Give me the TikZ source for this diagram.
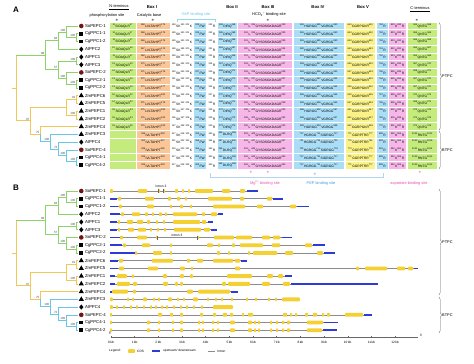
\documentclass[tikz,border=0pt]{standalone}
\usepackage{fontspec}
\setmainfont{Liberation Sans}
\usepackage{tikz}
\usetikzlibrary{shapes.geometric, arrows.meta, positioning, decorations.pathreplacing, calc}
\definecolor{treegreen}{RGB}{140,212,105}
\definecolor{treeyellow}{RGB}{240,200,85}
\definecolor{treecyan}{RGB}{105,198,230}
\definecolor{cellgreen}{RGB}{196,236,125}
\definecolor{cellorange}{RGB}{250,198,152}
\definecolor{cellcyan}{RGB}{170,222,246}
\definecolor{cellpink}{RGB}{246,182,232}
\definecolor{cellyellow}{RGB}{250,242,135}
\definecolor{soRed}{RGB}{115,20,20}
\definecolor{exonyellow}{RGB}{245,208,50}
\definecolor{utrblue}{RGB}{45,60,215}
\definecolor{sitepink}{RGB}{228,80,175}
\definecolor{siteblue}{RGB}{70,150,215}
\newcommand{\sps}[1]{\textsuperscript{#1}}
\newcommand{\nn}[1]{\the\numexpr#1+\off\relax}
% one gene model in panel B: row, end, exons, up/downstream
\newcommand{\gene}[4]{%
  \pgfmathsetmacro\gy{183.26+7.74*#1}
  \draw[intron] (110,\gy) -- (#2,\gy);
  \foreach \s/\t in {#4} \draw[utr] (\s,\gy) -- (\t,\gy);
  \foreach \s/\t in {#3} \fill[exon] (\s,\gy-1.9) rectangle (\t,\gy+1.9);
}

\begin{document}
\begin{tikzpicture}[x=1pt, y=-1pt,
    leaf/.style={font=\fontsize{4.3}{5}\selectfont, inner sep=0, anchor=west},
    boot/.style={font=\fontsize{3}{3.5}\selectfont, text=black!70, inner sep=0.4, anchor=south east},
    cell/.style 2 args={fill=#1, minimum width=#2, minimum height=6.8, inner sep=0,
                        font=\fontsize{3.3}{4}\selectfont},
    boxhead/.style={font=\fontsize{4.2}{5}\selectfont\bfseries, inner sep=0},
    subhead/.style={font=\fontsize{3.9}{4.5}\selectfont, inner sep=0},
    starmark/.style={font=\fontsize{5.5}{5.5}\selectfont, inner sep=0},
    soMark/.style={circle, fill=soRed, minimum size=4.6, inner sep=0},
    cgMark/.style={rectangle, fill=black, minimum size=3.8, inner sep=0},
    atMark/.style={diamond, fill=black, minimum width=4.4, minimum height=5.4, inner sep=0},
    zmMark/.style={regular polygon, regular polygon sides=3, fill=black, minimum size=6, inner sep=0},
    intron/.style={draw=black!45, line width=0.5},
    utr/.style={draw=utrblue, line width=1.8},
    exon/.style={fill=exonyellow, rounded corners=0.8},
    tick/.style={font=\fontsize{3.2}{4}\selectfont, inner sep=0},
    group/.style={decorate, decoration={brace, amplitude=2.5}, draw=black!60, line width=0.4}
]
    \useasboundingbox (0,0) rectangle (474,364);
    \node[font=\fontsize{8}{9}\selectfont\bfseries] (labA) at (16,10) {A};
    \node[font=\fontsize{8}{9}\selectfont\bfseries] (labB) at (16,188) {B};

    % trees, markers and names (same in A and B)
    \foreach \p/\dy in {a/0, b/165}{
    \begin{scope}[shift={(0,\dy)}]
        \foreach \name/\mk [count=\i] in {SoPEPC-1/soMark, CgPPC1-1/cgMark, CgPPC1-2/cgMark,
            AtPPC2/atMark, AtPPC1/atMark, AtPPC3/atMark, SoPEPC-2/soMark, CgPPC2-1/cgMark,
            CgPPC2-2/cgMark, ZmPEPC6/zmMark, ZmPEPC5/zmMark, ZmPEPC1/zmMark, ZmPEPC2/zmMark,
            ZmPEPC4/zmMark, ZmPEPC3/zmMark, AtPPC4/atMark, SoPEPC-4/soMark, CgPPC4-1/cgMark,
            CgPPC4-2/cgMark}{
            \pgfmathsetmacro\ry{18.26+7.74*\i}
            \coordinate (\p T\i) at (78,\ry);
            \node[\mk] (\p M\i) at (81.3,\ry) {};
            \node[leaf] (\p L\i) at (84.8,\ry) {\name};
        }
        \coordinate (\p c1) at (76,37.61);
        \coordinate (\p c2) at (66,31.8);
        \coordinate (\p c3) at (58,40.5);
        \coordinate (\p c4) at (76,60.83);
        \coordinate (\p c5) at (76,84.05);
        \coordinate (\p c6) at (66,78.25);
        \coordinate (\p c7) at (58,69.54);
        \coordinate (\p c8) at (45,55.02);
        \coordinate (\p z1) at (76,99.53);
        \coordinate (\p z2) at (76,115.01);
        \coordinate (\p z3) at (66,107.27);
        \coordinate (\p b1) at (76,161.45);
        \coordinate (\p b2) at (66,155.6);
        \coordinate (\p b3) at (58,148.9);
        \coordinate (\p b4) at (50,141.6);
        \coordinate (\p b5) at (40,134.1);
        \coordinate (\p b6) at (30,120.7);
        \coordinate (\p r) at (16,87.86);
        \foreach \u/\v/\col in {c1/T2/treegreen, c1/T3/treegreen, c2/T1/treegreen, c2/c1/treegreen,
            c3/c2/treegreen, c3/T4/treegreen, c4/T5/treegreen, c4/T6/treegreen, c5/T8/treegreen,
            c5/T9/treegreen, c6/T7/treegreen, c6/c5/treegreen, c7/c4/treegreen, c7/c6/treegreen,
            c8/c3/treegreen, c8/c7/treegreen, z1/T10/treeyellow, z1/T11/treeyellow,
            z2/T12/treeyellow, z2/T13/treeyellow, z3/z1/treeyellow, z3/z2/treeyellow,
            b1/T18/treecyan, b1/T19/treecyan, b2/T17/treecyan, b2/b1/treecyan, b3/T16/treecyan,
            b3/b2/treecyan, b4/T15/treecyan, b4/b3/treecyan, b5/T14/treeyellow, b5/b4/treecyan,
            b6/z3/treeyellow, b6/b5/treeyellow, r/b6/treeyellow}
            \draw[\col, line width=0.5] (\p\u) |- (\p\v);
        \draw[treeyellow, line width=0.5] (\p r) -- (\p r |- \p c8);
        \draw[treegreen, line width=0.5] (\p r |- \p c8) -- (\p c8);
        \draw[treeyellow, line width=0.5] (\p r) -- ++(-4,0);
        \foreach \u/\bs in {c1/100, c2/100, c3/84, c4/100, c5/100, c6/100, c7/57, c8/98,
            z1/91, z2/100, b1/100, b2/100, b3/72, b4/100, b5/75, b6/97}
            \node[boot] (\p s\u) at (\p\u) {\bs};
    \end{scope}
    }

    % panel A: headers
    \node[subhead] (nterm) at (119,7) {\underline{N-terminus}};
    \node[subhead] (phos) at (107,15) {phosphorylation site};
    \node[boxhead] (box1) at (152,7) {Box I};
    \node[subhead] (catb) at (149,15) {Catalytic base};
    \node[subhead, text=treecyan] (g6p) at (196,14.5) {G6P binding site};
    \draw[treecyan!70, line width=0.4] (177,21.5) -- (177,19) -- (215,19) -- (215,21.5);
    \node[boxhead] (box2) at (232,7) {Box II};
    \node[boxhead] (box3) at (268,7) {Box III};
    \node[subhead] (hco) at (269,15) {HCO\textsubscript{3}\textsuperscript{--} binding site};
    \node[boxhead] (box4) at (318,7) {Box IV};
    \node[boxhead] (box5) at (363,7) {Box V};
    \node[subhead] (cterm) at (420,9) {\underline{C-terminus}};
    \foreach \sx in {117,153,268,417}
        \node[starmark] (st\sx) at (\sx,20.5) {$\ast$};

    % panel A: motifs, PTPC
    \foreach \i/\off in {1/3,2/3,3/3,4/2,5/3,6/5,7/6,8/5,9/5,10/8,11/6,12/10,13/10,14/11}{
        \pgfmathsetmacro\ry{18.26+7.74*\i}
        \node[cell={cellgreen}{25.5}] (ph\i) at (122.75,\ry) {\sps{\nn{8}}SIDAQLR\sps{\nn{14}}};
        \node[cell={cellorange}{33.5}] (ca\i) at (153.25,\ry) {\sps{\nn{165}}LVLTAHPT\sps{\nn{172}}};
        \node[cell={white}{22}] (ta\i) at (182,\ry) {\sps{\nn{186}}SK\sps{\nn{187}}\,\sps{\nn{198}}K};
        \node[cell={cellcyan}{12}] (cy\i) at (200,\ry) {\sps{\nn{221}}FW};
        \node[cell={white}{10}] (tb\i) at (212,\ry) {\sps{\nn{229}}R};
        \node[cell={cellcyan}{19}] (cz\i) at (227.5,\ry) {\sps{\nn{262}}DIRQ\sps{\nn{265}}};
        \node[cell={cellpink}{54}] (pk\i) at (265,\ry) {\sps{\nn{298}}L \sps{\nn{312}}GYSDSGKDAGR\sps{\nn{322}}};
        \node[cell={cellcyan}{50}] (hg\i) at (319,\ry) {\sps{\nn{578}}HGRGG\sps{\nn{582}}VGRGG\sps{\nn{587}}};
        \node[cell={cellyellow}{29}] (ye\i) at (360.5,\ry) {\sps{\nn{641}}GGRPGKR\sps{\nn{647}}};
        \node[cell={cellcyan}{11}] (cr\i) at (382.5,\ry) {\sps{\nn{759}}R};
        \node[cell={cellpink}{17}] (kr\i) at (397.5,\ry) {\sps{\nn{820}}K\sps{\nn{829}}R};
        \node[cell={cellgreen}{29}] (ct\i) at (422.5,\ry) {\sps{\nn{962}}QNTG\sps{\nn{965}}};
    }
    % panel A: motifs, BTPC
    \foreach \i/\off in {15/0,16/4,17/2,18/0,19/0}{
        \pgfmathsetmacro\ry{18.26+7.74*\i}
        \node[cell={cellgreen}{25.5}] (ph\i) at (122.75,\ry) {};
        \node[cell={cellorange}{33.5}] (ca\i) at (153.25,\ry) {\sps{\nn{296}}IVLTAHPT\sps{\nn{303}}};
        \node[cell={white}{22}] (ta\i) at (182,\ry) {\sps{\nn{317}}SK\sps{\nn{318}}\,\sps{\nn{329}}K};
        \node[cell={cellcyan}{12}] (cy\i) at (200,\ry) {\sps{\nn{352}}FW};
        \node[cell={white}{10}] (tb\i) at (212,\ry) {\sps{\nn{360}}R};
        \node[cell={cellcyan}{19}] (cz\i) at (227.5,\ry) {\sps{\nn{393}}DLRQ\sps{\nn{396}}};
        \node[cell={cellpink}{54}] (pk\i) at (265,\ry) {\sps{\nn{429}}L \sps{\nn{443}}GYSDSGKDAGR\sps{\nn{453}}};
        \node[cell={cellcyan}{50}] (hg\i) at (319,\ry) {\sps{\nn{707}}HGRGG\sps{\nn{711}}SIGRGG\sps{\nn{717}}};
        \node[cell={cellyellow}{29}] (ye\i) at (360.5,\ry) {\sps{\nn{771}}GGRPTRR\sps{\nn{777}}};
        \node[cell={cellcyan}{11}] (cr\i) at (382.5,\ry) {\sps{\nn{889}}R};
        \node[cell={cellpink}{17}] (kr\i) at (397.5,\ry) {\sps{\nn{950}}K\sps{\nn{959}}R};
        \node[cell={cellgreen}{29}] (ct\i) at (422.5,\ry) {\sps{\nn{1029}}RNTG\sps{\nn{1032}}};
    }
    \draw[group] (439,22.5) -- (439,130.5) node[midway, right=3pt, subhead] (ptpcA) {PTPC};
    \draw[group] (439,131) -- (439,169) node[midway, right=3pt, subhead] (btpcA) {BTPC};

    % panel A: binding sites below
    \node[starmark, text=sitepink] (mg1) at (251,172) {$\ast$};
    \node[starmark, text=sitepink] (mg2) at (268,172) {$\ast$};
    \node[starmark, text=siteblue] (pep1) at (315,174) {$\ast$};
    \node[starmark, text=sitepink] (asp1) at (420,172) {$\ast$};
    \draw[siteblue!40, line width=0.4] (210,173) -- (210,177) -- (383,177) -- (383,173);
    \node[subhead, text=sitepink] (mgsite) at (265,183) {Mg\textsuperscript{2+} binding site};
    \node[subhead, text=siteblue] (pepsite) at (321,183) {PEP binding site};
    \node[subhead, text=sitepink] (aspsite) at (409,183) {aspartate binding site};

    % panel B: gene models
    \gene{1}{258}{110/113,138/147,158/160,163/165,175/178,182/184,188/190,195/213,222/230,240/245}{247/258}
    \gene{2}{283}{118/121,145/154,168/171,177/180,185/187,208/232,240/244,267/272}{110/117,273/283}
    \gene{3}{309}{119/122,147/154,170/172,180/183,190/192,213/245,257/263,290/296}{110/118,297/309}
    \gene{4}{223}{121/124,132/140,145/148,152/154,159/162,165/167,173/197,202/205,211/217}{110/120,218/223}
    \gene{5}{213}{118/120,127/133,137/143,147/150,156/158,163/165,173/200,202/206}{110/117,208/213}
    \gene{6}{217}{118/120,128/134,138/146,150/152,157/159,164/166,174/201,204/210}{110/117,211/217}
    \gene{7}{292}{120/123,137/147,156/158,197/199,214/234,236/252,262/270,273/280}{110/120,282/292}
    \gene{8}{325}{123/126,142/150,170/172,207/213,218/220,232/235,240/263,272/280,305/312}{110/122,313/325}
    \gene{9}{335}{135/137,153/162,170/172,217/220,228/230,248/250,253/277,285/293,317/323}{110/135,324/335}
    \gene{10}{247}{119/123,152/173,187/190,197/203,213/233,235/240}{110/118,241/247}
    \gene{11}{418}{119/124,148/158,180/185,191/193,235/240,356/359,365/387,397/405,408/413}{110/118,414/418}
    \gene{12}{292}{117/127,132/134,163/167,180/184,190/193,227/252,267/273,278/283}{110/115,285/292}
    \gene{13}{378}{117/130,133/137,163/168,175/178,180/183,222/226,228/250,262/270,283/290}{110/115,291/378}
    \gene{14}{238}{112/128,133/136,187/193,198/230}{110/112,231/238}
    \gene{15}{300}{110/113,127/129,132/134,143/147,153/155,158/160,168/172,177/179,183/185,193/198,207/209,215/217,221/223,231/233,246/248,255/257,268/270,275/277,282/300}{110/110.5}
    \gene{16}{233}{110/113,116/118,123/125,130/132,136/138,143/145,150/152,155/157,161/163,166/168,173/175,180/182,186/188,193/195,201/203,213/233}{110/110.5}
    \gene{17}{372}{110/112,158/162,170/173,180/183,200/203,213/216,223/227,230/233,242/244,248/253,283/287,290/292,295/297,305/308,313/317,322/324,327/330,345/363}{364/372}
    \gene{18}{338}{110/112,147/150,158/160,172/174,180/183,198/200,202/204,212/214,217/219,230/235,248/252,254/256,258/260,270/272,276/278,282/284,287/290,307/323}{324/338}
    \gene{19}{337}{110/112,147/150,158/160,172/174,180/183,198/200,202/204,212/214,217/219,230/235,248/252,254/256,258/260,270/272,276/278,282/284,287/290,307/322}{323/337}
    \draw[black!60, line width=0.3] (158,189) -- (158,193) (163,189) -- (163,193);
    \node[tick] (in1) at (161,186) {intron 3};
    \draw[black!60, line width=0.3] (157,236) -- (157,240) (197,236) -- (197,240);
    \node[tick] (in2) at (177,235.5) {intron 3};
    \draw[group] (439,189) -- (439,295) node[midway, right=3pt, subhead] (ptpcB) {PTPC};
    \draw[group] (439,297) -- (439,333) node[midway, right=3pt, subhead] (btpcB) {BTPC};

    % panel B: scale and legend
    \draw[black!60, line width=0.4] (111,337) -- (418,337);
    \foreach \k in {0,...,12}{
        \draw[black!60, line width=0.4] (111+23.67*\k,337) -- ++(0,-1.5);
        \node[tick] (kb\k) at (111+23.67*\k,342) {\k\,kb};
    }
    \node[tick] (five) at (110,333.5) {5'};
    \node[tick] (three) at (421,335) {3'};
    \node[tick, anchor=west] (legend) at (109,351) {Legend:};
    \fill[exon] (128,349.2) rectangle (135,352.8);
    \node[tick, anchor=west] (lcds) at (137,351) {CDS};
    \draw[utr] (152,351) -- (160,351);
    \node[tick, anchor=west] (lutr) at (163,351) {upstream/ downstream};
    \draw[intron] (208,351) -- (215,351);
    \node[tick, anchor=west] (lintron) at (217,351) {Intron};
\end{tikzpicture}
\end{document}
